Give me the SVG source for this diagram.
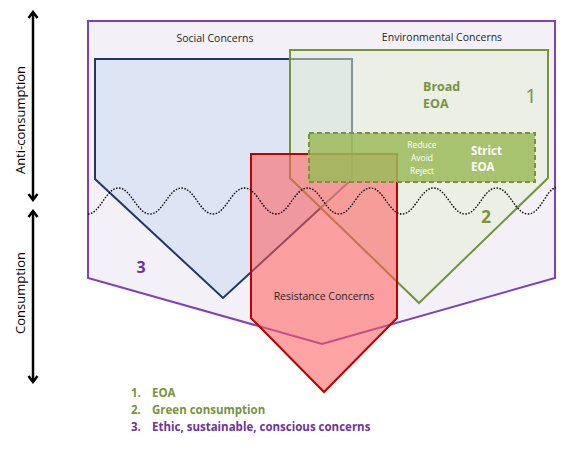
<svg xmlns="http://www.w3.org/2000/svg" width="584" height="453" viewBox="0 0 584 453">
<defs>
<style>
text{font-family:"Open Sans","Liberation Sans",sans-serif;}
.lbl{font-size:10.5px;fill:#262626;text-anchor:middle;}
.g{fill:#77933C;font-weight:bold;}
.p{fill:#7030A0;font-weight:bold;}
.w{fill:#ffffff;}
.axis{stroke:#000;stroke-width:2.5;fill:none;marker-start:url(#chev);marker-end:url(#chev);}
</style>
<marker id="chev" viewBox="-8 -6 10 12" markerWidth="10" markerHeight="12" refX="0" refY="0" orient="auto-start-reverse" markerUnits="userSpaceOnUse">
<path d="M-6,-4.5 L0,0 L-6,4.5" fill="none" stroke="#000" stroke-width="2.5"/>
</marker>
</defs>
<rect width="584" height="453" fill="#ffffff"/>
<g id="ethic">
<polygon points="88,21 555,21 555,278 322,344 88,278" fill="#F3F1F7" stroke="#7F3FBF" stroke-width="2"/>
<text class="p" x="141" y="273" font-size="16" text-anchor="middle">3</text>
</g>
<g id="social">
<polygon points="95,59 352,59 352,179 223,298 95,179" fill="#D3DFF2" fill-opacity="0.7" stroke="#1F3864" stroke-width="2"/>
<text class="lbl" x="215" y="42">Social Concerns</text>
</g>
<g id="environmental">
<polygon points="290,50 548,50 548,178 419,303 290,178" fill="#E6EED6" fill-opacity="0.5" stroke="#77933C" stroke-width="2"/>
<text class="lbl" x="442" y="41">Environmental Concerns</text>
<text class="g" x="423" y="91" font-size="12.5">Broad</text>
<text class="g" x="423" y="108" font-size="12.5">EOA</text>
<text x="531" y="103" font-size="20" fill="#77933C" text-anchor="middle">1</text>
<text class="g" x="486" y="223" font-size="17" text-anchor="middle">2</text>
</g>
<g id="resistance">
<polygon points="251,154 397,154 397,318 324,392 251,318" fill="#FF5A5A" fill-opacity="0.55" stroke="#C00000" stroke-width="2"/>
<text class="lbl" x="324" y="300">Resistance Concerns</text>
</g>
<g id="strict">
<rect x="309" y="133" width="226" height="49" fill="#9BBB59" fill-opacity="0.85" stroke="#77933C" stroke-width="2" stroke-dasharray="5,3"/>
<text class="w" x="422" y="148" font-size="8.5" text-anchor="middle">Reduce</text>
<text class="w" x="422" y="161" font-size="8.5" text-anchor="middle">Avoid</text>
<text class="w" x="422" y="174" font-size="8.5" text-anchor="middle">Reject</text>
<text class="w" x="471" y="155" font-size="11.5" font-weight="bold">Strict</text>
<text class="w" x="471" y="171" font-size="11.5" font-weight="bold">EOA</text>
</g>
<g id="connectors">
<path d="M88,214 C100,214 106,188 118.5,188 S137,214 150,214 S168.5,188 181.5,188 S200,214 213,214 S231.5,188 244.5,188 S263,214 276,214 S294.5,188 307.5,188 S326,214 339,214 S357.5,188 370.5,188 S389,214 402,214 S420.5,188 433.5,188 S452,214 465,214 S483.5,188 496.5,188 S515,214 528,214 S546.5,188 556,188" fill="none" stroke="#000" stroke-width="1.4" stroke-dasharray="1.5,1.5"/>
<line class="axis" x1="33" y1="12" x2="33" y2="200"/>
<line class="axis" x1="33" y1="211" x2="33" y2="382"/>
</g>
<g id="axis-labels">
<text x="25" y="120" font-size="13" fill="#000" text-anchor="middle" transform="rotate(-90 25 120)">Anti-consumption</text>
<text x="25" y="293" font-size="13" fill="#000" text-anchor="middle" transform="rotate(-90 25 293)">Consumption</text>
</g>
<g id="legend" font-size="11.5">
<text class="g" x="131" y="397">1.</text><text class="g" x="152" y="397">EOA</text>
<text class="g" x="131" y="414">2.</text><text class="g" x="152" y="414">Green consumption</text>
<text class="p" x="131" y="431">3.</text><text class="p" x="152" y="431">Ethic, sustainable, conscious concerns</text>
</g>
</svg>
